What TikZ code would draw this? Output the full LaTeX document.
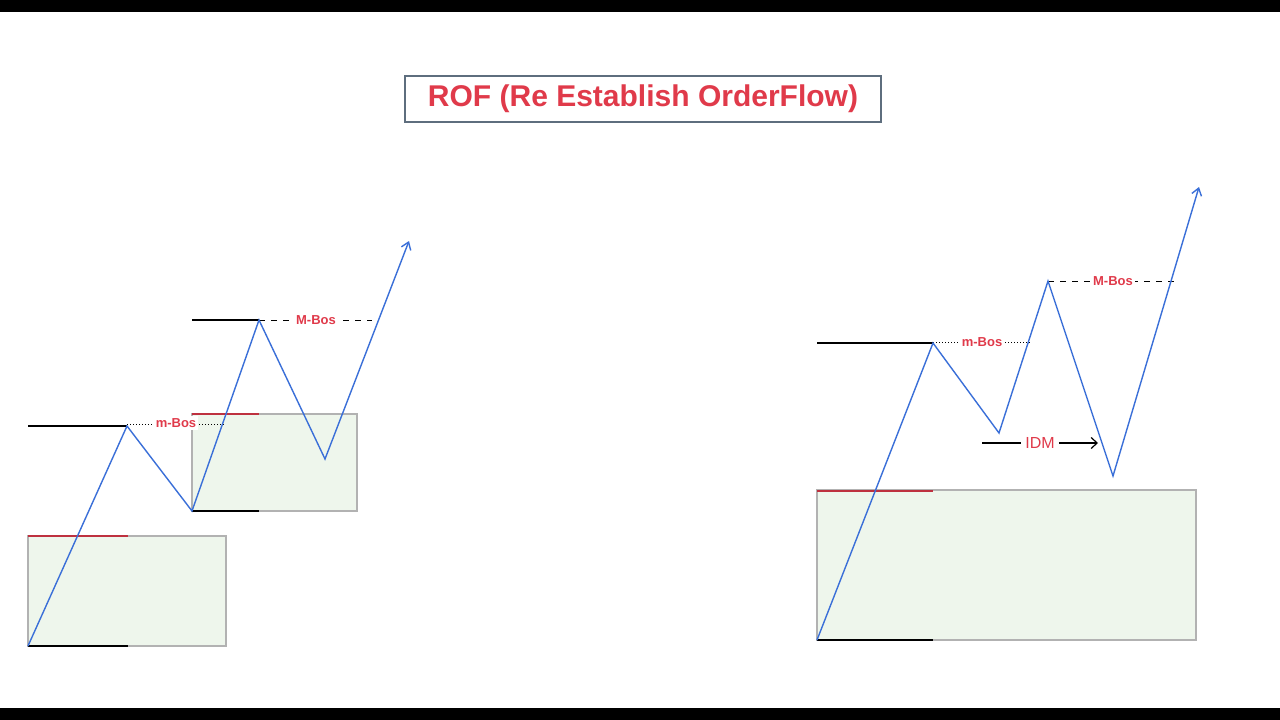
\documentclass[tikz,border=0pt]{standalone}
\usepackage{fontspec}
\setmainfont{Liberation Sans}
\usetikzlibrary{arrows.meta}
\definecolor{rd}{HTML}{E03A4A}
\definecolor{bl}{HTML}{3A6FD8}
\definecolor{gbox}{HTML}{EEF6EC}
\definecolor{tbox}{HTML}{5E6E7E}
\tikzset{x=1pt,y=-1pt,
 wave/.style={draw=bl,line width=1.4pt,line join=miter},
 zone/.style={fill=gbox,draw=black!30,line width=1.2pt},
 lvl/.style={line width=2.8pt,black},
 rlvl/.style={line width=2.8pt,draw=rd!85!black},
 lbl/.style={text=rd,font=\bfseries\fontsize{13}{15}\selectfont,fill=white,inner sep=2pt}}
\begin{document}
\begin{tikzpicture}
\useasboundingbox (0,0) rectangle (1280,720);
\fill[white] (0,0) rectangle (1280,720);
\fill[black] (0,0) rectangle (1280,12);
\fill[black] (0,708) rectangle (1280,720);
\node[draw=tbox,line width=2.2pt,minimum width=476pt,minimum height=46pt,text=rd,font=\bfseries\fontsize{30}{34}\selectfont] (title) at (643,99) {ROF (Re Establish OrderFlow)};
% left
\draw[zone] (28,536) rectangle (226,646);
\draw[zone] (192,414) rectangle (357,511);
\draw[lvl] (28,646) -- (128,646);
\draw[rlvl] (28,536) -- (128,536);
\draw[lvl] (28,426) -- (127,426);
\draw[rlvl] (192,414) -- (259,414);
\draw[lvl] (192,511) -- (259,511);
\draw[lvl] (192,320) -- (259,320);
\draw[dotted,line width=1pt] (127,424) -- (225,424);
\node[lbl] (mb1) at (176,423) {m-Bos};
\draw[dashed,line width=1pt,dash pattern=on 6pt off 6pt] (259,320) -- (372,320);
\node[lbl] (MB1) at (316,320) {M-Bos};
\coordinate (a0) at (28,646); \coordinate (a1) at (127,426); \coordinate (a2) at (192,511);
\coordinate (a3) at (259,320); \coordinate (a4) at (325,459); \coordinate (a5) at (409,241);
\draw[wave,-{Straight Barb[length=7pt,width=10pt]}] (a0) -- (a1) -- (a2) -- (a3) -- (a4) -- (a5);
% right
\draw[zone] (817,490) rectangle (1196,640);
\draw[rlvl] (817,491) -- (933,491);
\draw[lvl] (817,640) -- (933,640);
\draw[lvl] (817,343) -- (933,343);
\draw[dotted,line width=1pt] (933,342) -- (1030,342);
\node[lbl] (mb2) at (982,342) {m-Bos};
\draw[dashed,line width=1pt,dash pattern=on 6pt off 6pt] (1048,281) -- (1175,281);
\node[lbl] (MB2) at (1113,281) {M-Bos};
\coordinate (b0) at (817,640); \coordinate (b1) at (933,343); \coordinate (b2) at (999,433);
\coordinate (b3) at (1048,281); \coordinate (b4) at (1113,476); \coordinate (b5) at (1199,187);
\draw[wave,-{Straight Barb[length=7pt,width=10pt]}] (b0) -- (b1) -- (b2) -- (b3) -- (b4) -- (b5);
\node[text=rd,font=\fontsize{16}{18}\selectfont,inner sep=4pt] (idm) at (1040,443) {IDM};
\coordinate (i0) at (982,443); \coordinate (i1) at (1098,443);
\draw[line width=1.2pt] (i0) -- (idm.west);
\draw[line width=1.2pt,-{Straight Barb[length=6pt,width=11pt]}] (idm.east) -- (i1);
\end{tikzpicture}
\end{document}
